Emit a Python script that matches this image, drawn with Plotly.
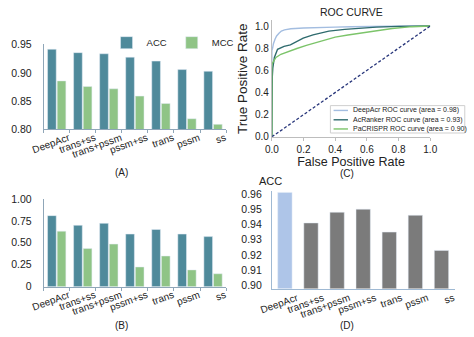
import plotly.graph_objects as go

# ---------------- data ----------------
methods = ["DeepAcr", "trans+ss", "trans+pssm", "pssm+ss", "trans", "pssm", "ss"]

# (A)
a_acc = [0.942, 0.936, 0.934, 0.928, 0.921, 0.906, 0.903]
a_mcc = [0.886, 0.876, 0.872, 0.859, 0.846, 0.819, 0.809]
# (B)
b_acc = [0.809, 0.699, 0.721, 0.599, 0.651, 0.599, 0.570]
b_mcc = [0.632, 0.434, 0.485, 0.224, 0.349, 0.191, 0.147]
# (D)
d_acc = [0.961, 0.941, 0.948, 0.950, 0.935, 0.946, 0.923]

# (C) ROC curves
deep_fpr = [0.0, 0.0, 0.005, 0.01, 0.02, 0.03, 0.045, 0.06, 0.08, 0.12, 0.2, 0.3, 0.4, 0.5, 0.6, 0.75, 1.0]
deep_tpr = [0.0, 0.78, 0.80, 0.84, 0.88, 0.91, 0.935, 0.955, 0.965, 0.975, 0.982, 0.988, 0.99, 0.993, 0.996, 0.998, 1.0]
acr_fpr = [0.0, 0.0, 0.003, 0.006, 0.016, 0.036, 0.077, 0.117, 0.158, 0.198, 0.26, 0.36, 0.46, 0.56, 0.66, 0.80, 1.0]
acr_tpr = [0.0, 0.30, 0.55, 0.62, 0.716, 0.79, 0.817, 0.83, 0.86, 0.89, 0.92, 0.954, 0.97, 0.983, 0.99, 0.997, 1.0]
pac_fpr = [0.0, 0.0, 0.006, 0.026, 0.057, 0.107, 0.158, 0.218, 0.279, 0.34, 0.40, 0.48, 0.56, 0.66, 0.76, 0.885, 1.0]
pac_tpr = [0.0, 0.65, 0.67, 0.716, 0.745, 0.774, 0.797, 0.826, 0.852, 0.875, 0.90, 0.919, 0.936, 0.957, 0.977, 0.994, 1.0]
diag = [0.0, 1.0]
roc_names = ["DeepAcr ROC curve (area = 0.98)",
             "AcRanker ROC curve (area = 0.93)",
             "PaCRISPR ROC curve (area = 0.90)"]

# ---------------- styles ----------------
ACC_C = "#4f8a9b"
MCC_C = "#8fc486"
GRAY_C = "#7b7b7b"
HI_C = "#aec5e8"
AX_C = "#8fa6b8"
ROC_COLORS = ["#a3bde0", "#2f6b6e", "#7cc46a"]
FONT = "Liberation Sans, Arial, sans-serif"

W, H = 474, 337
def px(x):
    return x / W
def py(y):
    return 1 - y / H

fig = go.Figure()

# (A)
fig.add_trace(go.Bar(x=methods, y=a_acc, name="ACC", marker_color=ACC_C,
                     xaxis="x", yaxis="y", legend="legend"))
fig.add_trace(go.Bar(x=methods, y=a_mcc, name="MCC", marker_color=MCC_C,
                     xaxis="x", yaxis="y", legend="legend"))
# (B)
fig.add_trace(go.Bar(x=methods, y=b_acc, name="ACC", marker_color=ACC_C,
                     xaxis="x3", yaxis="y3", showlegend=False))
fig.add_trace(go.Bar(x=methods, y=b_mcc, name="MCC", marker_color=MCC_C,
                     xaxis="x3", yaxis="y3", showlegend=False))
# (D)
d_colors = [HI_C] + [GRAY_C] * (len(methods) - 1)
fig.add_trace(go.Bar(x=methods, y=d_acc, marker_color=d_colors, width=0.55,
                     xaxis="x4", yaxis="y4", showlegend=False))
# (C)
for fx, ty, nm, col in zip([deep_fpr, acr_fpr, pac_fpr], [deep_tpr, acr_tpr, pac_tpr],
                           roc_names, ROC_COLORS):
    fig.add_trace(go.Scatter(x=fx, y=ty, mode="lines", name=nm,
                             line=dict(color=col, width=1.4),
                             xaxis="x2", yaxis="y2", showlegend=False))
fig.add_trace(go.Scatter(x=diag, y=diag, mode="lines", showlegend=False,
                         line=dict(color="#27357a", width=1.3, dash="3px,2px"),
                         xaxis="x2", yaxis="y2"))

bar_x = dict(type="category", showline=True, linecolor=AX_C, linewidth=1,
             ticks="outside", tickson="boundaries", ticklen=3, tickcolor=AX_C,
             tickangle=-20, tickfont=dict(size=10, color="#222"),
             ticklabelshift=12, ticklabelstandoff=-2, showgrid=False, zeroline=False)
bar_y = dict(showline=True, linecolor=AX_C, linewidth=1, showgrid=False,
             zeroline=False, ticks="", tickfont=dict(size=10.5, color="#222"),
             ticklabelstandoff=9)

# compact legend for the ROC panel (box, line samples, labels)
leg_left, leg_right, leg_top, leg_bot = 331.7, 471.7, 103.3, 131.7
row_y = [108.3, 118.0, 127.5]
shapes = [dict(type="rect", xref="paper", yref="paper",
               x0=px(leg_left), x1=px(leg_right), y0=py(leg_bot), y1=py(leg_top),
               fillcolor="rgba(255,255,255,0.85)", line=dict(color="#cfcfcf", width=1),
               layer="above")]
annotations = []
for ry, nm, col in zip(row_y, roc_names, ROC_COLORS):
    shapes.append(dict(type="line", xref="paper", yref="paper",
                       x0=px(335), x1=px(350), y0=py(ry), y1=py(ry),
                       line=dict(color=col, width=1.4), layer="above"))
    annotations.append(dict(text=nm, x=px(353.3), y=py(ry), xref="paper", yref="paper",
                            xanchor="left", yanchor="middle", showarrow=False,
                            font=dict(size=7.0, color="#222")))

for txt, x, y, sz in [("(A)", 114, 172.5, 10), ("(B)", 114, 331, 10),
                      ("(C)", 349, 174, 10), ("(D)", 349, 331, 10),
                      ("ROC CURVE", 354, 6, 10.5), ("ACC", 269, 181, 11)]:
    annotations.append(dict(text=txt, x=px(x), y=py(y), xref="paper", yref="paper",
                            xanchor="center", yanchor="middle", showarrow=False,
                            font=dict(size=sz, color="#222")))

fig.update_layout(
    width=W, height=H, margin=dict(l=0, r=0, t=0, b=0),
    paper_bgcolor="white", plot_bgcolor="white",
    font=dict(family=FONT, color="#222"),
    barmode="group", bargap=0.26, bargroupgap=0.1,
    xaxis=dict(bar_x, domain=[px(33), px(223)], anchor="y"),
    yaxis=dict(bar_y, domain=[py(128), py(39)], range=[0.80, 0.952],
               tickvals=[0.80, 0.85, 0.90, 0.95],
               ticktext=["0.80", "0.85", "0.90", "0.95"], anchor="x"),
    xaxis3=dict(bar_x, domain=[px(33), px(223)], anchor="y3"),
    yaxis3=dict(bar_y, domain=[py(291), py(200)], range=[0, 1.0],
                tickvals=[0, 0.25, 0.5, 0.75, 1.0],
                ticktext=["0", "0.25", "0.50", "0.75", "1.00"], anchor="x3"),
    xaxis4=dict(bar_x, domain=[px(270.7), px(461)], anchor="y4",
                ticks="", linecolor="#9fb9d3", ticklabelstandoff=-1),
    yaxis4=dict(bar_y, domain=[py(293), py(191.7)], range=[0.898, 0.962],
                tickvals=[0.90, 0.91, 0.92, 0.93, 0.94, 0.95, 0.96],
                ticktext=["0.90", "0.91", "0.92", "0.93", "0.94", "0.95", "0.96"],
                linecolor="#9fb9d3", ticklabelstandoff=7, anchor="x4"),
    xaxis2=dict(domain=[px(270.7), px(435.7)], range=[0, 1.0], anchor="y2",
                tickvals=[0, 0.2, 0.4, 0.6, 0.8, 1.0], tickformat=".1f",
                showline=True, linecolor="#bdbdbd", ticks="outside", ticklen=3,
                tickcolor="#bdbdbd", showgrid=False, zeroline=False,
                tickfont=dict(size=10, color="#222"),
                title=dict(text="False Positive Rate", font=dict(size=12.5, color="#222"),
                           standoff=0)),
    yaxis2=dict(domain=[py(135.7), py(15)], range=[0, 1.05], anchor="x2",
                tickvals=[0, 0.2, 0.4, 0.6, 0.8, 1.0], tickformat=".1f",
                showline=True, linecolor="#bdbdbd", ticks="", showgrid=False,
                zeroline=False, tickfont=dict(size=10, color="#222"),
                title=dict(text="True Positive Rate", font=dict(size=13.5, color="#222"),
                           standoff=4)),
    legend=dict(orientation="h", x=px(236), xanchor="right", y=py(38),
                yanchor="middle", font=dict(size=9.5, color="#222"),
                bgcolor="rgba(0,0,0,0)", itemwidth=30),
    shapes=shapes,
    annotations=annotations,
)

fig.write_html("out.html")
